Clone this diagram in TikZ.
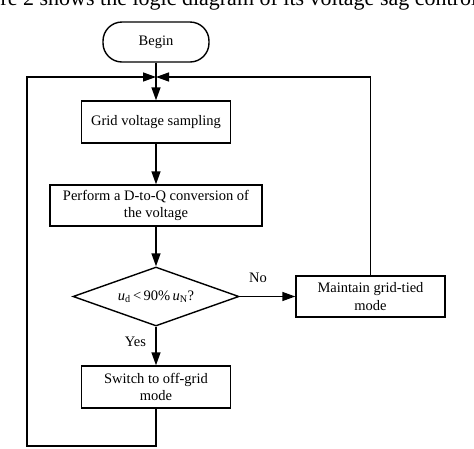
\documentclass[tikz,border=0pt]{standalone}
\usepackage{fontspec}
\setmainfont{Liberation Serif}
\usetikzlibrary{shapes.geometric,arrows.meta}
\tikzset{
  flowbox/.style={draw,line width=1.4pt,align=center,inner sep=2pt},
  arr/.style={-{Triangle[length=13pt,width=9pt]},line width=1.4pt},
}
\begin{document}
\begin{tikzpicture}[x=1pt,y=-1pt,font=\fontsize{14.5}{17.4}\selectfont]
                \useasboundingbox (0,0) rectangle (474,448);
                \begin{scope}
                \clip (0,0) rectangle (474,448);
                \node[anchor=base west,inner sep=0,font=\fontsize{22}{26}\selectfont] (caption) at (-40,5) {Figure 2 shows the logic diagram of its voltage sag control};
                \end{scope}
                \node[flowbox,rounded corners=19pt,minimum width=106pt,minimum height=40pt] (begin) at (156,42) {Begin};
                \node[flowbox,minimum width=149pt,minimum height=42pt] (grid) at (156,122) {Grid voltage sampling};
                \node[flowbox,minimum width=212pt,minimum height=41pt] (dq) at (156,205.5) {Perform a D-to-Q conversion of\\the voltage};
                \node[flowbox,diamond,aspect=2.8,inner sep=0pt,minimum width=166pt,minimum height=59pt] (sag) at (156,296.5) {\textit{u}\textsubscript{d}\,<\,90\%\,\textit{u}\textsubscript{N}?};
                \node[flowbox,minimum width=149pt,minimum height=41pt] (keep) at (370.5,296.5) {Maintain grid-tied\\mode};
                \node[flowbox,minimum width=149pt,minimum height=42pt] (switch) at (156,387) {Switch to off-grid\\mode};
                \coordinate (merge) at (156,77);
                \coordinate (loopL) at (27,446);
                \draw[arr] (begin) -- (grid);
                \draw[arr] (grid) -- (dq);
                \draw[arr] (dq) -- (sag);
                \draw[arr] (sag) -- node[above=10pt,pos=0.33]{No} (keep);
                \draw[arr] (sag) -- node[left=6pt,pos=0.4]{Yes} (switch);
                \draw[arr] (switch.south) |- (loopL) |- (merge);
                \draw[arr] (keep.north) |- (merge);
            \end{tikzpicture}
\end{document}
